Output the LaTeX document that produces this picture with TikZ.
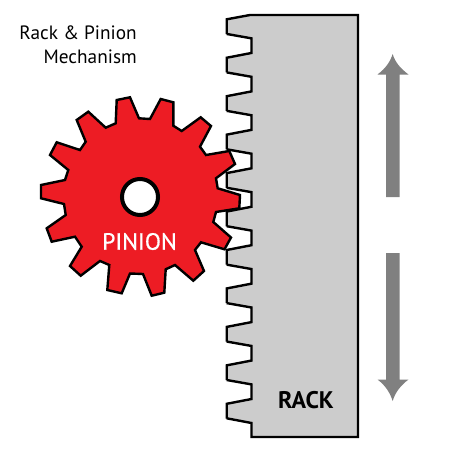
\documentclass[tikz,border=0pt]{standalone}
\usepackage{fontspec}
\setmainfont{PT Sans}
\newfontfamily\pinionfont[FakeBold=0.6]{PT Sans}
\definecolor{rackGray}{RGB}{204,204,204}
\definecolor{pinionRed}{RGB}{237,28,36}
\definecolor{moveGray}{RGB}{128,128,128}
\usetikzlibrary{positioning}
\tikzset{
  partln/.style={line width=2.4pt, line join=miter, miter limit=3},
  holeln/.style={line width=4pt, fill=white},
  moveln/.style={fill=moveGray},
}

\begin{document}
\begin{tikzpicture}[x=1pt,y=-1pt]
    \useasboundingbox (0,0) rectangle (450,451);
    % rack with its eleven teeth, one period per loop step
    \draw[partln, fill=rackGray] (250,15) -- (358,15) -- (358,437) -- (251.5,437) -- (251.5,423)
      -- (226.7,418.3)
      \foreach \i [evaluate=\i as \T using 19.3+38.45*(10-\i)] in {0,...,10} {
        -- (226.7,\T+14.7) -- (226.7,\T)
        \ifnum\i<10 -- (251.5,\T-4.8) -- (251.5,\T-19.4) -- (226.7,\T-23.8) \fi
      } -- cycle;
    % pinion outline, clockwise from the left tooth
    \draw[partln, fill=pinionRed] (41,198.3) -- (41,185) -- (65,180) -- (68.3,170) -- (50,155)
      -- (56.7,142.3) -- (80,150) -- (85.7,141.7) -- (76.7,120) -- (88.3,111.7) -- (105.7,127.7)
      -- (115.7,123.3) -- (116.7,100) -- (130,97.3) -- (139,118.3) -- (150,119) -- (160.7,99)
      -- (173.3,102.3) -- (173.3,125.7) -- (181.7,131) -- (200.7,117.3) -- (211,126) -- (200,146.7)
      -- (206,155) -- (229.3,151) -- (235,164) -- (216,178.3) -- (217.7,188.3) -- (240,195)
      -- (239.3,208.3) -- (216,212) -- (213.3,222) -- (231,237.5) -- (224.5,249.3) -- (201,242.3)
      -- (195,250) -- (204,271) -- (193.3,280.7) -- (175,265) -- (165.7,269.3) -- (164.3,292.7)
      -- (151.7,295.7) -- (143,274) -- (130,273.5) -- (121.7,293.3) -- (107.3,290) -- (109.3,265)
      -- (100,261) -- (80.7,275.7) -- (70,266) -- (81.7,246.7) -- (75,236.7) -- (51.7,241.7)
      -- (46.7,228.3) -- (65.7,215) -- (64,204) -- cycle;
    \draw[holeln] (140,197) circle[radius=18];
    % direction arrows
    \fill[moveln] (386,197) -- (386,74.5) -- (377.5,74.5) .. controls (386,68) and (390,62) .. (392.7,54)
      .. controls (395,62) and (400,68) .. (408.5,74.5) -- (399.5,74.5) -- (399.5,197) -- cycle;
    \fill[moveln] (386,253) -- (386,379.5) -- (377.5,379.5) .. controls (386,386) and (390,393) .. (392.7,401)
      .. controls (395,393) and (400,386) .. (408.5,379.5) -- (399.5,379.5) -- (399.5,253) -- cycle;
    % labels
    \node[text=white, font=\pinionfont\fontsize{23.5}{23.5}\selectfont] (pinion) at (139.5,241.5) {PINION};
    \node[font=\bfseries\fontsize{24}{24}\selectfont] (rack) at (306,400.5) {RACK};
    \node[anchor=north east, align=right, inner sep=0pt, font=\fontsize{19.3}{23.5}\selectfont] (title) at (137,26) {Rack \& Pinion\\Mechanism};
  \end{tikzpicture}
\end{document}
